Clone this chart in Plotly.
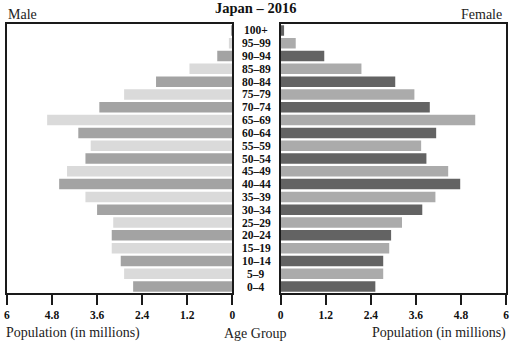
import plotly.graph_objects as go

age_groups = ["100+", "95–99", "90–94", "85–89", "80–84", "75–79", "70–74", "65–69",
              "60–64", "55–59", "50–54", "45–49", "40–44", "35–39", "30–34", "25–29",
              "20–24", "15–19", "10–14", "5–9", "0–4"]
male = [0.02, 0.09, 0.40, 1.14, 2.03, 2.88, 3.54, 4.93, 4.10, 3.77, 3.91, 4.40, 4.61,
        3.91, 3.60, 3.17, 3.21, 3.21, 2.97, 2.88, 2.64]
female = [0.09, 0.40, 1.16, 2.15, 3.05, 3.56, 3.97, 5.18, 4.14, 3.74, 3.88, 4.46, 4.78,
          4.12, 3.77, 3.23, 2.94, 2.89, 2.73, 2.73, 2.52]
tick_vals = [0, 1.2, 2.4, 3.6, 4.8, 6]
tick_text = ["0", "1.2", "2.4", "3.6", "4.8", "6"]

SERIF = "Liberation Serif"
male_colors = ["#a3a3a3" if i % 2 == 0 else "#dadada" for i in range(len(age_groups))]
female_colors = ["#636363" if i % 2 == 0 else "#ababab" for i in range(len(age_groups))]

W, H = 511, 342
fig = go.Figure()
fig.add_trace(go.Bar(y=age_groups, x=male, orientation="h", marker_color=male_colors,
                     marker_line_width=0, xaxis="x", yaxis="y", showlegend=False))
fig.add_trace(go.Bar(y=age_groups, x=female, orientation="h", marker_color=female_colors,
                     marker_line_width=0, xaxis="x2", yaxis="y2", showlegend=False))

ydom = [1 - 293 / H, 1 - 24 / H]
axis_common = dict(tickvals=tick_vals, ticktext=tick_text, ticks="outside", ticklen=10,
                   tickcolor="#1a1a1a", tickwidth=1.5, showline=True, linecolor="#1a1a1a",
                   linewidth=1.5, mirror=True, showgrid=False, zeroline=False,
                   tickfont=dict(family=SERIF, size=11.5, color="#111", weight="bold"))
yaxis_common = dict(categoryorder="array", categoryarray=age_groups[::-1],
                    showticklabels=False, showline=True, linecolor="#1a1a1a", linewidth=1.5,
                    mirror=True, showgrid=False, zeroline=False, ticks="",
                    range=[-0.5, len(age_groups) - 0.5], domain=ydom)

fig.update_layout(
    width=W, height=H, margin=dict(l=0, r=0, t=0, b=0),
    paper_bgcolor="white", plot_bgcolor="white", bargap=0.18,
    xaxis=dict(domain=[4 / W, 232 / W], range=[6, 0], anchor="y", **axis_common),
    xaxis2=dict(domain=[281 / W, 509 / W], range=[0, 6], anchor="y2", **axis_common),
    yaxis=dict(anchor="x", **yaxis_common),
    yaxis2=dict(anchor="x2", **yaxis_common),
)

annotations = []
for ag in age_groups:
    annotations.append(dict(x=256.5 / W, xref="paper", y=ag, yref="y", text=ag,
                            showarrow=False, xanchor="center", yanchor="middle",
                            font=dict(family=SERIF, size=11.5, color="#111", weight="bold")))
annotations += [
    dict(x=256 / W, y=1 - 8 / H, xref="paper", yref="paper", text="Japan – 2016",
         showarrow=False, xanchor="center", yanchor="middle",
         font=dict(family=SERIF, size=14.5, color="#111", weight="bold")),
    dict(x=3 / W, y=1 - 14 / H, xref="paper", yref="paper", text="Male",
         showarrow=False, xanchor="left", yanchor="middle",
         font=dict(family=SERIF, size=14, color="#222")),
    dict(x=507 / W, y=1 - 14 / H, xref="paper", yref="paper", text="Female",
         showarrow=False, xanchor="right", yanchor="middle",
         font=dict(family=SERIF, size=14, color="#222")),
    dict(x=1 / W, y=1 - 333 / H, xref="paper", yref="paper", text="Population (in millions)",
         showarrow=False, xanchor="left", yanchor="middle",
         font=dict(family=SERIF, size=14, color="#222")),
    dict(x=256 / W, y=1 - 333 / H, xref="paper", yref="paper", text="Age Group",
         showarrow=False, xanchor="center", yanchor="middle",
         font=dict(family=SERIF, size=14, color="#222")),
    dict(x=511 / W, y=1 - 333 / H, xref="paper", yref="paper", text="Population (in millions)",
         showarrow=False, xanchor="right", yanchor="middle",
         font=dict(family=SERIF, size=14, color="#222")),
]
fig.update_layout(annotations=annotations)

fig.write_html("out.html")
